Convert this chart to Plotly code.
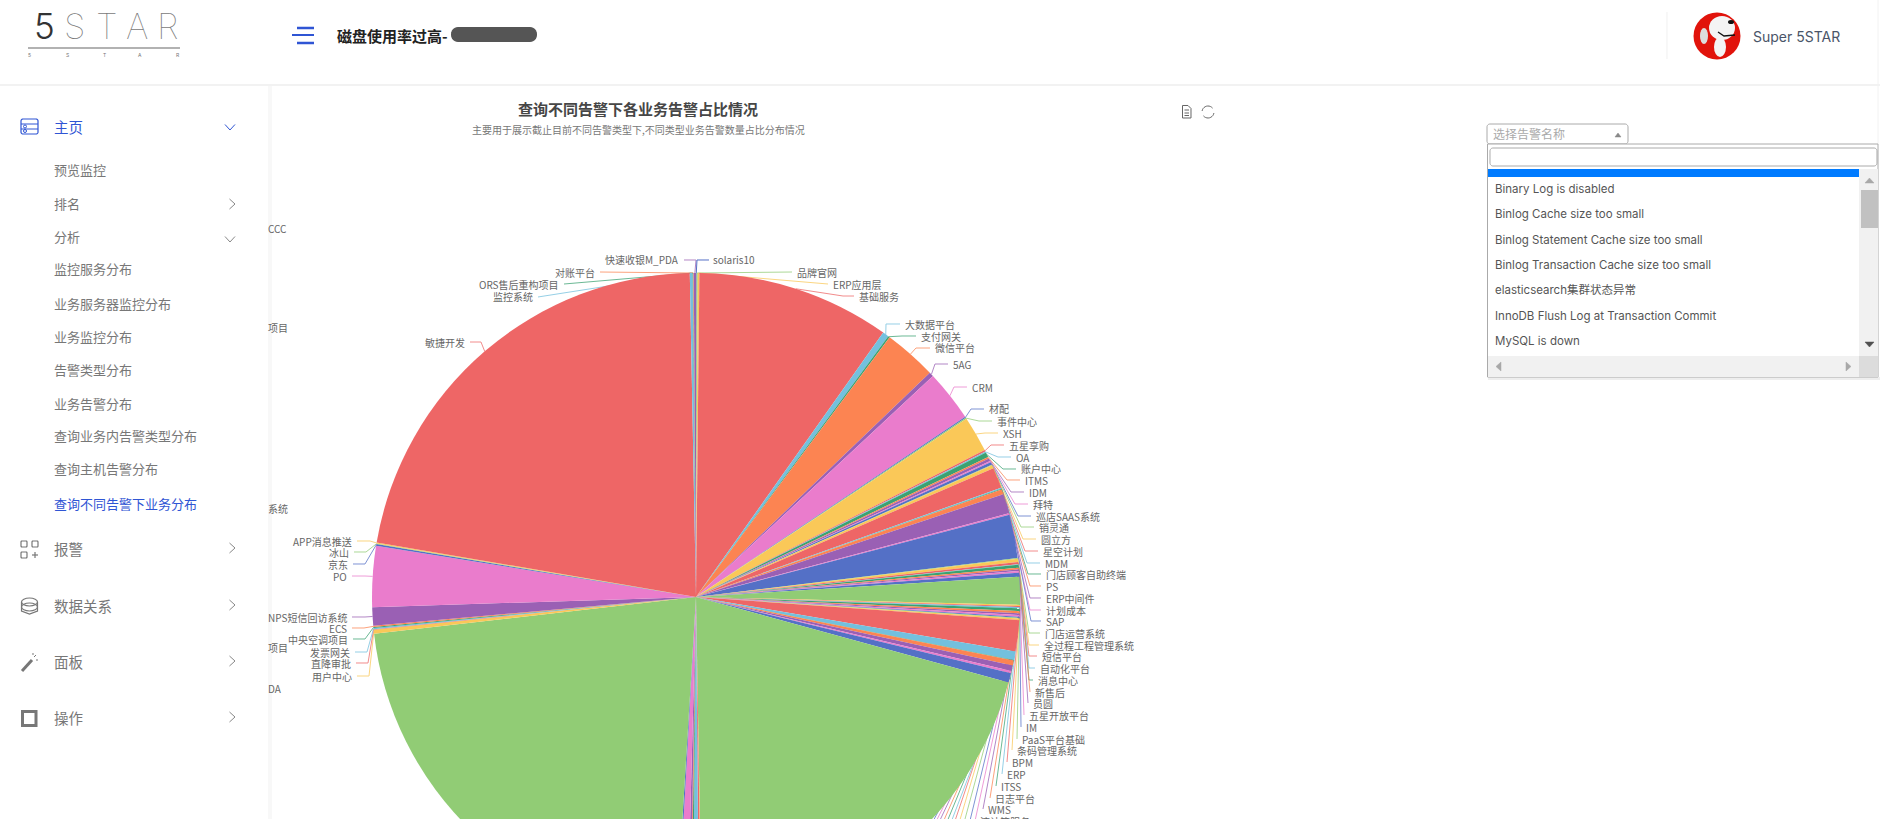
import plotly.graph_objects as go
import math

W = 1880
H = 950
CX, CY, R = 696, 597, 324

CJK = "Noto Sans CJK SC"
LATIN = "Inter, Noto Sans CJK SC"
BLUE = "#2f55d4"
GREY = "#777777"

palette = ["#5470c6", "#91cc75", "#fac858", "#ee6666", "#73c0de",
           "#3ba272", "#fc8452", "#9a60b4", "#ea7ccc"]

# clockwise from 12 o'clock
names = [
    "solaris10", "品牌官网", "ERP应用层", "基础服务", "大数据平台", "支付网关", "微信平台", "5AG", "CRM", "材配",
    "事件中心", "XSH", "五星享购", "OA", "账户中心", "ITMS", "IDM", "拜特", "巡店SAAS系统", "销灵通",
    "圆立方", "星空计划", "MDM", "门店顾客自助终端", "PS", "ERP中间件", "计划成本", "SAP", "门店运营系统", "全过程工程管理系统",
    "短信平台", "自动化平台", "消息中心", "新售后", "员圆", "五星开放平台", "IM", "PaaS平台基础", "条码管理系统", "BPM",
    "ERP", "ITSS", "日志平台", "WMS", "流计算服务", "业务46", "业务47", "业务48", "业务49", "业务50",
    "业务51", "业务52", "业务53", "业务54", "业务55", "业务56", "业务57", "业务58", "业务59", "业务60",
    "业务61", "业务62", "业务63", "业务64", "业务65", "用户中心", "直降审批", "发票网关", "中央空调项目", "ECS",
    "NPS短信回访系统", "PO", "京东", "冰山", "APP消息推送", "敏捷开发", "监控系统", "ORS售后重构项目", "对账平台", "快速收银M_PDA",
]
counts = [
    1, 2, 3, 347, 11, 3, 95, 8, 92, 2,
    2, 64, 3, 2, 9, 3, 5, 2, 5, 1,
    6, 37, 2, 1, 9, 35, 3, 78, 1, 6,
    4, 1, 5, 3, 3, 3, 7, 50, 2, 2,
    2, 5, 4, 3, 3, 2, 1, 3, 56, 15,
    1, 9, 10, 4, 17, 737, 1, 4, 10, 3,
    2, 5, 17, 3, 800, 7, 1, 2, 2, 2,
    33, 109, 3, 1, 2, 792, 5, 1, 1, 4,
]

# label placement, pixels: name -> (text x, text y, length of the flat end of the leader)
right_labels = {
    "品牌官网": (797, 272, 0), "ERP应用层": (833, 284, 0), "基础服务": (859, 296, 11),
    "大数据平台": (905, 324, 14), "支付网关": (921, 336, 14), "微信平台": (935, 348, 14), "5AG": (953, 364, 13),
    "CRM": (972, 387, 13), "材配": (989, 409, 13), "事件中心": (997, 421, 13), "XSH": (1003, 433, 13),
    "五星享购": (1009, 445, 13), "OA": (1016, 457, 13), "账户中心": (1021, 469, 13), "ITMS": (1025, 480, 13),
    "IDM": (1029, 492, 13), "拜特": (1033, 504, 13), "巡店SAAS系统": (1036, 516, 13), "销灵通": (1039, 527, 13),
    "圆立方": (1041, 539, 13), "星空计划": (1043, 551, 13), "MDM": (1045, 563, 13), "门店顾客自助终端": (1046, 574, 13),
    "PS": (1046, 586, 11), "ERP中间件": (1046, 598, 11), "计划成本": (1046, 610, 11), "SAP": (1046, 621, 10),
    "门店运营系统": (1045, 633, 11), "全过程工程管理系统": (1044, 645, 10), "短信平台": (1042, 656, 8), "自动化平台": (1040, 668, 6),
    "消息中心": (1038, 680, 4), "新售后": (1035, 692, 0), "员圆": (1033, 703, 0), "五星开放平台": (1029, 715, 0),
    "IM": (1026, 727, 0), "PaaS平台基础": (1022, 739, 0), "条码管理系统": (1017, 750, 0), "BPM": (1012, 762, 0),
    "ERP": (1007, 774, 0), "ITSS": (1001, 786, 0), "日志平台": (995, 798, 0), "WMS": (988, 809, 0),
    "流计算服务": (980, 821, 0),
    # below the fold, only their leaders show
    "业务46": (972, 833, 0), "业务47": (963, 845, 0), "业务48": (954, 857, 0), "业务49": (944, 868, 0),
    "业务50": (934, 880, 0), "业务51": (923, 892, 0), "业务52": (912, 904, 0), "业务53": (900, 915, 0),
    "业务54": (888, 927, 0), "业务55": (875, 939, 0),
}
hidden_labels = [n for n in names if n.startswith("业务") and int(n[2:]) <= 55]
left_labels = {
    "用户中心": (352, 676, 12), "直降审批": (351, 663, 12), "发票网关": (350, 652, 12), "中央空调项目": (348, 639, 12),
    "ECS": (347, 628, 12), "NPS短信回访系统": (347, 617, 13), "PO": (347, 576, 13), "京东": (348, 564, 12),
    "冰山": (349, 552, 12), "APP消息推送": (352, 541, 13), "敏捷开发": (465, 342, 11), "监控系统": (533, 297, 0),
    "ORS售后重构项目": (559, 284, 0), "对账平台": (595, 272, 0),
}
clipped_labels = [("CCC", 228), ("项目", 327), ("系统", 508), ("项目", 647), ("DA", 688)]

menu_items = [
    ("预览监控", 169), ("排名", 203), ("分析", 236), ("监控服务分布", 269), ("业务服务器监控分布", 303),
    ("业务监控分布", 336), ("告警类型分布", 369), ("业务告警分布", 403), ("查询业务内告警类型分布", 436),
    ("查询主机告警分布", 469),
]
menu_groups = [("报警", 548), ("数据关系", 605), ("面板", 661), ("操作", 717)]
options = [
    "Binary Log is disabled", "Binlog Cache size too small", "Binlog Statement Cache size too small",
    "Binlog Transaction Cache size too small", "elasticsearch集群状态异常",
    "InnoDB Flush Log at Transaction Commit", "MySQL is down",
]
option_y = [189, 214, 240, 265, 290, 316, 341]


def fx(x):
    return x / W


def fy(y):
    return 1 - y / H


def rect(x0, y0, x1, y1, fill=None, line=None, lw=1):
    return dict(type="rect", xref="paper", yref="paper", x0=fx(x0), x1=fx(x1), y0=fy(y0), y1=fy(y1),
                fillcolor=fill or "rgba(0,0,0,0)", line=dict(color=line or "rgba(0,0,0,0)", width=lw if line else 0))


def path(points, color, lw=1, close=False, fill=None, layer="above", opacity=1):
    d = "M " + " L ".join(f"{fx(x):.5f},{fy(y):.5f}" for x, y in points) + (" Z" if close else "")
    return dict(type="path", xref="paper", yref="paper", path=d, layer=layer, opacity=opacity,
                fillcolor=fill or "rgba(0,0,0,0)", line=dict(color=color, width=lw))


def oval(cx, cy, rx, ry, fill=None, line=None, lw=1):
    return dict(type="circle", xref="paper", yref="paper", x0=fx(cx - rx), x1=fx(cx + rx), y0=fy(cy + ry), y1=fy(cy - ry),
                fillcolor=fill or "rgba(0,0,0,0)", line=dict(color=line or "rgba(0,0,0,0)", width=lw if line else 0))


def rounded(x0, y0, x1, y1, r, fill=None, line=None, lw=1):
    pts = []
    for cx, cy, a0 in [(x1 - r, y0 + r, -90), (x1 - r, y1 - r, 0), (x0 + r, y1 - r, 90), (x0 + r, y0 + r, 180)]:
        for k in range(7):
            a = math.radians(a0 + k * 15)
            pts.append((cx + r * math.cos(a), cy + r * math.sin(a)))
    return path(pts, line or "rgba(0,0,0,0)", lw if line else 0, close=True, fill=fill)


def text(s, x, y, size=13, color="#555555", family=CJK, anchor="left", bold=False, weight=None):
    font = dict(size=size, color=color, family=family)
    if weight:
        font["weight"] = weight
    return dict(text=f"<b>{s}</b>" if bold else s, x=fx(x), y=fy(y), xref="paper", yref="paper", showarrow=False,
                xanchor=anchor, yanchor="middle", align=anchor, font=font, borderpad=0, borderwidth=0)


def chevron(x, y, down=False, color="#888888"):
    if down:
        return path([(x - 5, y - 2.5), (x, y + 3), (x + 5, y - 2.5)], color, 1)
    return path([(x - 2.5, y - 5), (x + 3, y), (x - 2.5, y + 5)], color, 1)


shapes = []
notes = []

# leader lines, anchored on the mid angle of each slice
total = sum(counts)
mid_angle = {}
run = 0
for n, c in zip(names, counts):
    mid_angle[n] = (run + c / 2) / total * 2 * math.pi
    run += c
colour_of = {n: palette[i % len(palette)] for i, n in enumerate(names)}


def arc_point(n):
    a = mid_angle[n]
    return CX + R * math.sin(a), CY - R * math.cos(a)


for n, (tx, ty, flat) in right_labels.items():
    end = tx - 5
    pts = [arc_point(n), (end - flat, ty), (end, ty)] if flat else [arc_point(n), (end, ty)]
    shapes.append(path(pts, colour_of[n], 1, layer="below", opacity=0.75))
    if n not in hidden_labels:
        notes.append(text(n, tx, ty, 10, "#666666"))
for n, (tx, ty, flat) in left_labels.items():
    end = tx + 5
    pts = [arc_point(n), (end + flat, ty), (end, ty)] if flat else [arc_point(n), (end, ty)]
    shapes.append(path(pts, colour_of[n], 1, layer="below", opacity=0.75))
    notes.append(text(n, tx, ty, 10, "#666666", anchor="right"))
shapes.append(path([arc_point("快速收银M_PDA"), (696, 260), (684, 260)], colour_of["快速收银M_PDA"], 1, layer="below", opacity=0.75))
notes.append(text("快速收银M_PDA", 679, 260, 10, "#666666", anchor="right"))
shapes.append(path([arc_point("solaris10"), (697, 260), (709, 260)], colour_of["solaris10"], 1, layer="below"))
notes.append(text("solaris10", 713, 260, 10, "#666666"))
for s, y in clipped_labels:
    notes.append(text(s, 268, y, 10, "#666666"))

# chart title and toolbox
notes.append(text("查询不同告警下各业务告警占比情况", 638, 109, 15, "#464646", anchor="center", bold=True))
notes.append(text("主要用于展示截止目前不同告警类型下,不同类型业务告警数量占比分布情况", 638, 130, 10, "#777777", anchor="center"))
shapes.append(path([(1182.5, 105.5), (1188, 105.5), (1191, 108.5), (1191, 118), (1182.5, 118)], "#666666", 1, close=True))
for y in (110, 113, 115.5):
    shapes.append(path([(1184.5, y), (1189, y)], "#666666", 1))
for a0, a1 in [(190, 320), (10, 140)]:
    shapes.append(path([(1208 + 6 * math.cos(math.radians(a)), 112 + 6 * math.sin(math.radians(a))) for a in range(a0, a1 + 1, 13)], "#666666", 1))

# header
shapes.append(path([(0, 85), (1880, 85)], "#eeeeee", 1.5))
shapes.append(path([(1878, 0), (1878, 144)], "#f2f2f2", 1))
shapes.append(path([(1667, 12), (1667, 59)], "#f0f0f0", 1))
notes.append(text("5", 34, 26, 35, "#333333", family="Inter", weight=300))
for letter, x in [("S", 64, ), ("T", 96), ("A", 126), ("R", 157)]:
    notes.append(text(letter, x, 26, 35, "#7a7a7a", family="Inter", weight=100))
shapes.append(path([(28, 48), (180, 48)], "#666666", 1.2))
for letter, x in [("5", 30), ("S", 67), ("T", 104), ("A", 140), ("R", 178)]:
    notes.append(text(letter, x, 55, 5, "#777777", family="Inter", anchor="center"))
shapes.append(path([(297, 28), (314, 28)], BLUE, 2.5))
shapes.append(path([(292, 35), (314, 35)], BLUE, 2))
shapes.append(path([(297, 43), (314, 43)], BLUE, 2.5))
notes.append(text("磁盘使用率过高-", 337, 35, 15, "#222222", bold=True))
shapes.append(rounded(451, 27, 537, 42, 7, fill="#555555"))
notes.append(text("Super 5STAR", 1753, 36, 14, "#4a5568", family="Inter"))

# avatar
shapes.append(oval(1717, 36, 23.5, 23.5, fill="#e1130b"))
shapes.append(oval(1722, 28, 13, 12, fill="#f4f4f4"))
shapes.append(oval(1704, 36, 4, 8, fill="#dddddd"))
shapes.append(oval(1720, 47, 6, 10, fill="#f4f4f4"))
shapes.append(oval(1731, 22, 3, 2, fill="#111111"))
shapes.append(path([(1718, 32), (1724, 36), (1735, 35)], "#111111", 1.3))

# sidebar
shapes.append(rect(268, 86, 272, 819, fill="#f8f8f8"))
notes.append(text("主页", 54, 126, 14.5, BLUE))
shapes.append(chevron(230, 127, down=True, color=BLUE))
for s, y in menu_items:
    notes.append(text(s, 54, y, 13, GREY))
notes.append(text("查询不同告警下业务分布", 54, 503, 13, BLUE))
shapes.append(chevron(232, 204))
shapes.append(chevron(230, 239, down=True))
for s, y in menu_groups:
    notes.append(text(s, 54, y, 14.5, GREY))
    shapes.append(chevron(232, y))

# sidebar icons
shapes.append(rounded(21, 119, 38, 134, 2, line=BLUE, lw=1.2))
shapes.append(path([(21, 124), (38, 124)], BLUE, 1))
shapes.append(path([(21, 129), (38, 129)], BLUE, 1))
shapes.append(oval(25, 126.5, 1.5, 1.5, line=BLUE))
shapes.append(oval(25, 131, 1.5, 1.5, line=BLUE))
shapes.append(rounded(21, 541, 27, 547, 1, line="#777777", lw=1.2))
shapes.append(rounded(32, 541, 38, 547, 1, line="#777777", lw=1.2))
shapes.append(rounded(21, 552, 27, 558, 1, line="#777777", lw=1.2))
shapes.append(path([(32, 555), (38, 555)], "#777777", 1.2))
shapes.append(path([(35, 552), (35, 558)], "#777777", 1.2))
shapes.append(oval(29.5, 602, 8, 4, line="#777777", lw=1.2))
shapes.append(oval(29.5, 607, 8, 4, line="#777777", lw=1.2))
shapes.append(path([(21.5, 602), (21.5, 611), (29.5, 614), (37.5, 611), (37.5, 602)], "#777777", 1.2))
shapes.append(path([(22, 671), (32, 660)], "#777777", 3))
shapes.append(path([(34, 657), (36, 655)], "#777777", 1))
shapes.append(path([(36, 660), (38, 660)], "#777777", 1))
shapes.append(path([(33, 653), (33, 655)], "#777777", 1))
shapes.append(rect(22.5, 711.5, 36, 725.5, line="#777777", lw=3))

# dropdown
shapes.append(rect(1488, 377, 1880, 380, fill="#eeeeee"))
shapes.append(rounded(1487, 124, 1628, 144, 3, fill="#ffffff", line="#aaaaaa"))
notes.append(text("选择告警名称", 1493, 133, 12, "#aaaaaa"))
shapes.append(path([(1615, 137), (1621, 137), (1618, 133)], "#888888", 0.5, close=True, fill="#888888"))
shapes.append(rect(1487.5, 144, 1878, 377, fill="#ffffff", line="#aaaaaa"))
shapes.append(rounded(1490, 148, 1877, 166, 3, fill="#ffffff", line="#aaaaaa"))
shapes.append(rect(1488, 169, 1859, 177, fill="#007bff"))
shapes.append(rect(1859, 169, 1878, 356, fill="#f1f1f1"))
shapes.append(rect(1861, 190, 1878, 228, fill="#c1c1c1"))
shapes.append(rect(1488, 356, 1859, 377, fill="#f1f1f1"))
shapes.append(rect(1859, 356, 1878, 377, fill="#dcdcdc"))
shapes.append(path([(1865, 183), (1874, 183), (1869.5, 178)], "#a8a8a8", 0.5, close=True, fill="#a8a8a8"))
shapes.append(path([(1865, 342), (1874, 342), (1869.5, 347)], "#505050", 0.5, close=True, fill="#505050"))
shapes.append(path([(1501, 362), (1501, 371), (1496, 366.5)], "#a8a8a8", 0.5, close=True, fill="#a8a8a8"))
shapes.append(path([(1846, 362), (1846, 371), (1851, 366.5)], "#a8a8a8", 0.5, close=True, fill="#a8a8a8"))
for s, y in zip(options, option_y):
    notes.append(text(s, 1495, y, 11.5, "#555555", family=LATIN))

fig = go.Figure(
    go.Pie(
        labels=names,
        values=counts,
        sort=False,
        direction="clockwise",
        rotation=0,
        textinfo="none",
        showlegend=False,
        marker=dict(colors=[palette[i % len(palette)] for i in range(len(names))], line=dict(width=0)),
        domain=dict(x=[(CX - R) / W, (CX + R) / W], y=[1 - (CY + R) / H, 1 - (CY - R) / H]),
    )
)
fig.update_layout(
    width=W,
    height=H,
    margin=dict(l=0, r=0, t=0, b=0),
    paper_bgcolor="white",
    font_family=CJK,
    shapes=shapes,
    annotations=notes,
)

# the pie runs past the bottom of the window, as it does in the dashboard
fig.write_html(
    "out.html",
    config={"displayModeBar": False},
    post_script="document.documentElement.style.overflow='hidden';document.body.style.overflow='hidden';document.body.style.margin='0';",
)
